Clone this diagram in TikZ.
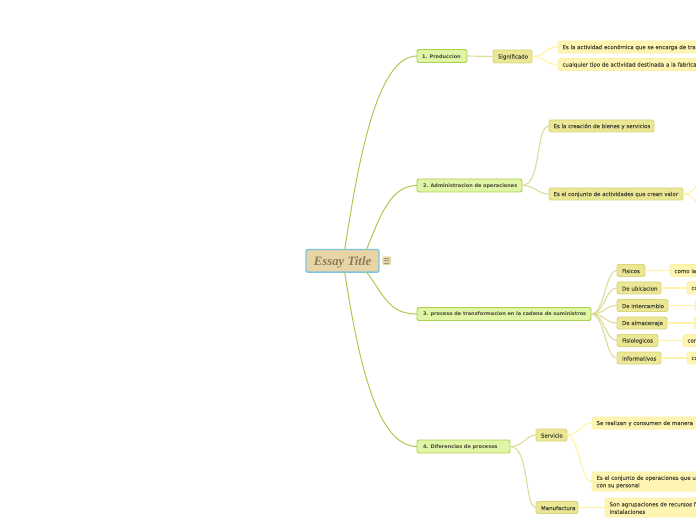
\documentclass[tikz,border=0pt]{standalone}
\usepackage{fontspec}
\usetikzlibrary{calc}
\setmainfont{DejaVu Sans}
\newfontfamily\rootfont{Liberation Serif}
\newfontfamily\heavyfont[FakeBold=0.2]{DejaVu Sans}
\definecolor{rootfill}{HTML}{E8D5A6}
\definecolor{rootline}{HTML}{7CC4E4}
\definecolor{roottext}{HTML}{8A7A58}
\definecolor{notemark}{HTML}{A39A7E}
\definecolor{gfill}{HTML}{E0F5A6}
\definecolor{gline}{HTML}{A9D14F}
\definecolor{ofill}{HTML}{EBE795}
\definecolor{oline}{HTML}{D9D67C}
\definecolor{yfill}{HTML}{FFF5B3}
\definecolor{yline}{HTML}{FBEFA5}
\definecolor{curveA}{HTML}{A6C848}
\definecolor{curveB}{HTML}{DEDC9C}
\definecolor{curveC}{HTML}{FFF3A8}
\definecolor{txt}{HTML}{4A4A38}
\tikzset{
 x=0.75pt,y=-0.75pt,
 box/.style={anchor=north west,inner sep=0pt,outer sep=0pt,rounded corners=1.2pt,text=txt,font=\heavyfont\fontsize{4.1}{5}\selectfont},
 lvlone/.style={box,draw=gline,line width=0.7pt,fill=gfill,font=\fontsize{3.72}{5}\selectfont\bfseries},
 lvltwo/.style={box,draw=oline,line width=0.7pt,fill=ofill},
 leaf/.style={box,draw=yline,line width=0.4pt,fill=yfill},
 rootbox/.style={box,draw=rootline,line width=1pt,fill=rootfill,text=roottext,font=\rootfont\fontsize{9.6}{11}\selectfont\bfseries\itshape},
 linkA/.style={draw=curveA,line width=0.7pt},
 linkB/.style={draw=curveB,line width=0.85pt},
 linkC/.style={draw=curveC,line width=0.85pt},
}
\newcommand{\bx}[8]{% name style x1 y1 x2 y2 padding text
 \pgfmathsetlengthmacro{\bw}{(#5-#3)*0.75pt}%
 \pgfmathsetlengthmacro{\bh}{(#6-#4)*0.75pt}%
 \pgfmathsetlengthmacro{\bp}{#7*0.75pt}%
 \node[#2,minimum height=\bh] (#1) at (#3,#4) {\raisebox{-0.4pt}[\height][\depth]{\makebox[\bw][l]{\hspace*{\bp}#8}}};}
\begin{document}
\begin{tikzpicture}
\useasboundingbox (0,0) rectangle (696,520);
\clip (0,0) rectangle (696,520);
\fill[white] (0,0) rectangle (696,520);
% nodes
\node[rootbox,minimum width=54.75pt,minimum height=17pt] (root) at (306,249.5) {\raisebox{-1.1pt}[\height][\depth]{Essay Title}};
\node[anchor=north west,fill=rootfill,rounded corners=1pt,minimum width=6.5pt,minimum height=6.5pt,inner sep=0pt] (note) at (382,256) {};
\draw[notemark,line width=0.4pt] ([xshift=1.4pt,yshift=-1.7pt]note.north west) -- ([xshift=-1.4pt,yshift=-1.7pt]note.north east)
 ([xshift=1.4pt]note.west) -- ([xshift=-1.4pt]note.east)
 ([xshift=1.4pt,yshift=1.7pt]note.south west) -- ([xshift=-1.4pt,yshift=1.7pt]note.south east);
\bx{a}{lvlone}{417}{49.5}{467}{62.5}{5}{1. Produccion}
\bx{b}{lvlone}{417}{179}{522}{192}{6}{2. Administracion de operaciones}
\bx{c}{lvlone}{417}{307.5}{591}{320.5}{6}{3. proceso de transformacion en la cadena de suministros}
\bx{d}{lvlone}{417}{440}{510}{453}{6}{4. Diferencias de procesos}
\bx{a1}{lvltwo}{493}{50}{532}{63}{5}{Significado}
\bx{b1}{lvltwo}{549}{120}{654}{132}{4.5}{Es la creación de bienes y servicios}
\bx{b2}{lvltwo}{549}{188}{683}{200}{4.5}{Es el conjunto de actividades que crean valor}
\bx{c1}{lvltwo}{617}{264.5}{645}{276.5}{5}{Fisicos}
\bx{c2}{lvltwo}{617}{282}{661}{294}{5}{De ubicacion}
\bx{c3}{lvltwo}{617}{299.5}{668}{311.5}{5}{De intercambio}
\bx{c4}{lvltwo}{617}{317}{667}{329}{5}{De almacenaje}
\bx{c5}{lvltwo}{617}{334.5}{658}{346.5}{5}{Fisiologicos}
\bx{c6}{lvltwo}{617}{352}{661}{364}{5}{Informativos}
\bx{d1}{lvltwo}{536}{429}{567}{441}{5}{Servicio}
\bx{d2}{lvltwo}{536}{501.5}{578}{513.5}{5}{Manufactura}
\bx{l1}{leaf}{558}{41}{720}{53}{4.5}{Es la actividad económica que se encarga de tra}
\bx{l2}{leaf}{558}{58.5}{720}{70.5}{4.5}{cualquier tipo de actividad destinada a la fabrica}
\bx{m1}{leaf}{670}{264.5}{720}{276.5}{4.5}{como la}
\bx{m2}{leaf}{687}{282}{720}{294}{4.5}{co}
\bx{m3}{leaf}{695}{299.5}{720}{311.5}{4.5}{}
\bx{m4}{leaf}{694}{317}{720}{329}{4.5}{}
\bx{m5}{leaf}{683}{334.5}{720}{346.5}{4.5}{cor}
\bx{m6}{leaf}{687}{352}{720}{364}{4.5}{co}
\bx{n1}{leaf}{592}{417}{720}{429}{4.5}{Se realizan y consumen de manera}
\bx{n2}{leaf}{592}{472}{720}{491}{4.5}{\parbox{100pt}{\baselineskip=5.6pt Es el conjunto de operaciones que u\\ con su personal}}
\bx{n3}{leaf}{605}{498}{720}{517}{4.5}{\parbox{90pt}{\baselineskip=5.6pt Son agrupaciones de recursos f\\ instalaciones}}
% free ends
\coordinate (r1) at ($(root.north west)!0.53!(root.north east)$);
\coordinate (r2) at ($(root.north west)!0.83!(root.north east)$);
\coordinate (r3) at ($(root.south west)!0.83!(root.south east)$);
\coordinate (r4) at ($(root.south west)!0.53!(root.south east)$);
\coordinate (x1) at (700,178);
\coordinate (x2) at (700,210);
% level 1
\draw[linkA] (r1) .. controls +(14,-90) and +(-40,0) .. (a.west);
\draw[linkA] (r2) .. controls +(14,-35) and +(-26,0) .. (b.west);
\draw[linkA] (r3) .. controls +(18,24) and +(-28,0) .. (c.west);
\draw[linkA] (r4) .. controls +(14,90) and +(-40,0) .. (d.west);
% level 2
\draw[linkB] (a.east) -- (a1.west);
\draw[linkC] (a1.east) .. controls +(14,0) and +(-14,0) .. (l1.west);
\draw[linkC] (a1.east) .. controls +(14,0) and +(-14,0) .. (l2.west);
\draw[linkB] (b.east) .. controls +(20,0) and +(-14,0) .. (b1.west);
\draw[linkB] (b.east) .. controls +(14,0) and +(-12,0) .. (b2.west);
\draw[linkC] (b2.east) .. controls +(8,0) and +(-4,10) .. (x1);
\draw[linkC] (b2.east) .. controls +(8,0) and +(-4,-10) .. (x2);
\foreach \t in {c1,c2,c3,c4,c5,c6}{
 \draw[linkB] (c.east) .. controls +(14,0) and +(-12,0) .. (\t.west);
}
\foreach \s/\t in {c1/m1,c2/m2,c3/m3,c4/m4,c5/m5,c6/m6}{
 \draw[linkC] (\s.east) -- (\t.west);
}
\draw[linkB] (d.east) .. controls +(14,0) and +(-10,0) .. (d1.west);
\draw[linkB] (d.east) .. controls +(20,0) and +(-12,0) .. (d2.west);
\draw[linkC] (d1.east) .. controls +(12,0) and +(-10,0) .. (n1.west);
\draw[linkC] (d1.east) .. controls +(12,0) and +(-12,0) .. (n2.west);
\draw[linkC] (d2.east) -- (n3.west);
\end{tikzpicture}
\end{document}
